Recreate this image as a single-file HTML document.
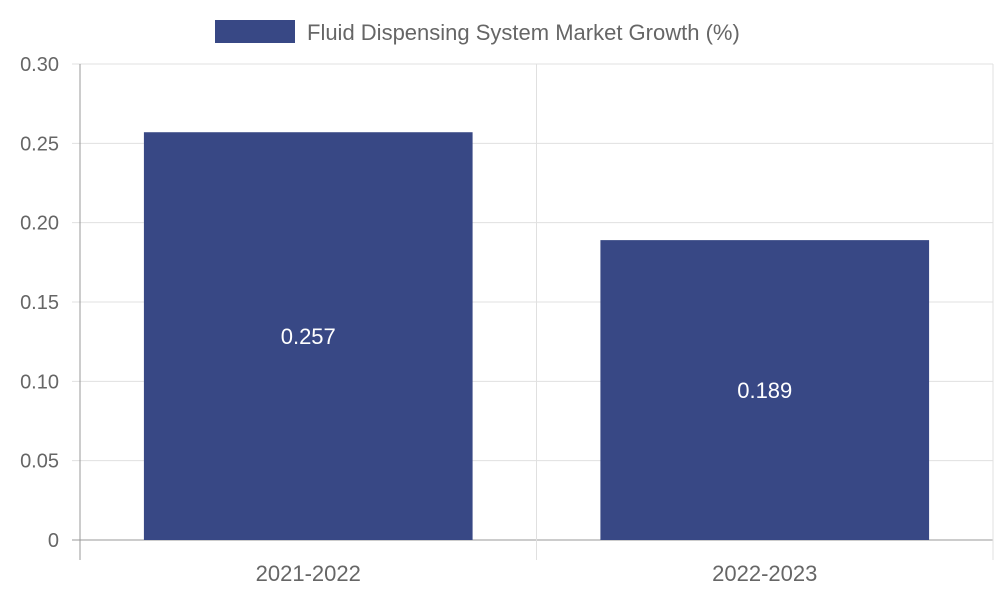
<!DOCTYPE html>
<html><head><meta charset="utf-8"><style>
body{margin:0;background:#fff;font-family:"Liberation Sans",sans-serif}
</style></head><body>
<svg id="chart" width="1000" height="600" xmlns="http://www.w3.org/2000/svg"></svg>
<script>
const categories=["2021-2022","2022-2023"];
const values=[0.257,0.189];
const valueLabels=["0.257","0.189"];
const yTicks=[0,0.05,0.10,0.15,0.20,0.25,0.30];
const yTickLabels=["0","0.05","0.10","0.15","0.20","0.25","0.30"];
const seriesName="Fluid Dispensing System Market Growth (%)";
const svg=document.getElementById('chart');
const NS="http://www.w3.org/2000/svg";
const L=80,R=993,T=64,B=540,yMax=0.30;
const y=v=>B-(v/yMax)*(B-T);
const cw=(R-L)/categories.length;
const x=i=>L+cw*i;
function mk(tag,attrs,parent){const e=document.createElementNS(NS,tag);for(const k in attrs)e.setAttribute(k,attrs[k]);(parent||svg).appendChild(e);return e;}
// grid
yTicks.forEach((t,i)=>{
 const g=mk('line',{x1:72,x2:R,y1:y(t),y2:y(t),stroke:i==0?'#999':'#e0e0e0','stroke-width':1});
 
 
 const tx=mk('text',{x:59,y:y(t)+7,'text-anchor':'end','font-size':20,fill:'#666'});
 tx.textContent=yTickLabels[i];
 
 
});
for(let i=0;i<=categories.length;i++){
 const g=mk('line',{x1:x(i),x2:x(i),y1:T,y2:560,stroke:i==0?'#999':'#e0e0e0','stroke-width':1});
 
 
}
categories.forEach((c,i)=>{
 const bw=cw*0.72,cx=x(i)+cw/2;
 const r=mk('rect',{x:cx-bw/2,y:y(values[i]),width:bw,height:B-y(values[i]),fill:'#384885'});
 
 
 const vl=mk('text',{x:cx,y:(y(values[i])+B)/2+8,'text-anchor':'middle','font-size':22,fill:'#fff'});
 vl.textContent=valueLabels[i];
 
 
 const xl=mk('text',{x:cx,y:581,'text-anchor':'middle','font-size':22,fill:'#666'});
 xl.textContent=c;
 
 
});
const lb=mk('rect',{x:215,y:20,width:80,height:23,fill:'#384885'});


const lt=mk('text',{x:307,y:40,'font-size':22,fill:'#666'});
lt.textContent=seriesName;


</script>
</body></html>
